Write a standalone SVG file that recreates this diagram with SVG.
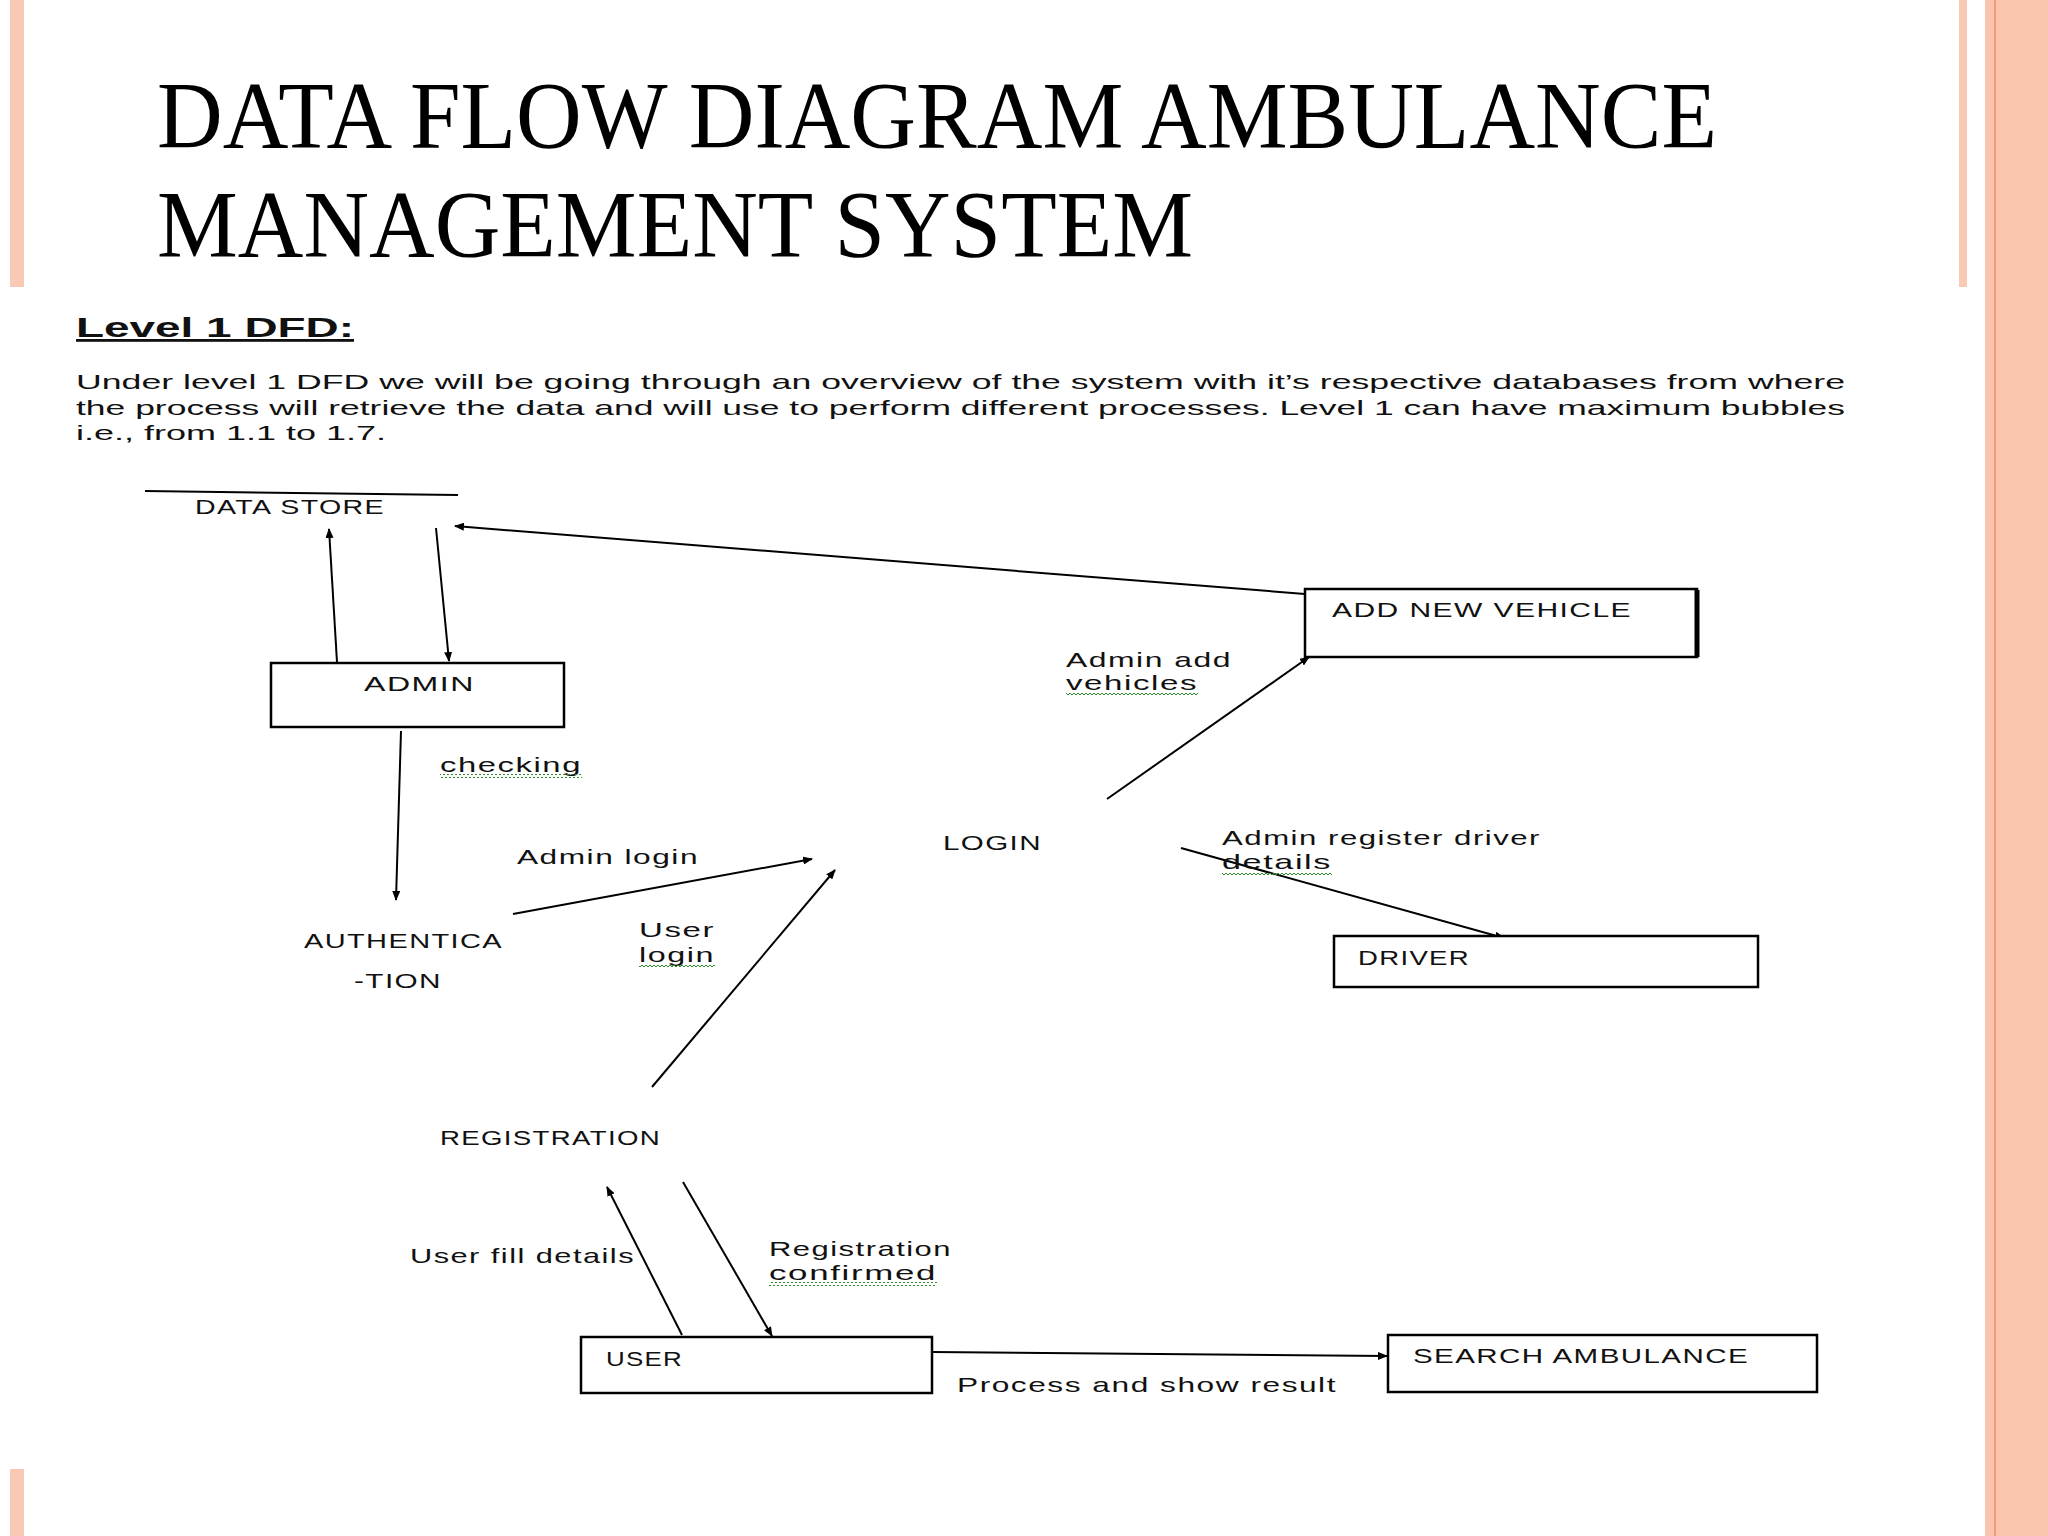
<svg xmlns="http://www.w3.org/2000/svg" width="2048" height="1536" viewBox="0 0 2048 1536">
<defs>
<marker id="ah" markerWidth="10" markerHeight="8" refX="9" refY="4" orient="auto" markerUnits="userSpaceOnUse"><path d="M0,0 L10,4 L0,8 z" fill="#000"/></marker>
<pattern id="wave" width="8" height="4" patternUnits="userSpaceOnUse"><path d="M0,3 L2,1 L4,3 L6,1 L8,3" stroke="#2e8b2e" stroke-width="1" fill="none"/></pattern>
</defs>
<style>
.t{font-family:"Liberation Sans",Arial,sans-serif;font-size:21px;fill:#111;letter-spacing:1px}
.b{fill:#fff;stroke:#000;stroke-width:2.5}
.c{stroke:#000;stroke-width:2;fill:none;marker-end:url(#ah)}
.sq{fill:url(#wave)}
</style>
<rect width="2048" height="1536" fill="#fff"/>
<g id="stripes">
<rect x="10" y="0" width="14" height="287" fill="#f9c9b6"/>
<rect x="10" y="1469" width="14" height="67" fill="#f9c9b6"/>
<rect x="1959" y="0" width="8" height="287" fill="#f9c9b6"/>
<rect x="1985" y="0" width="63" height="1536" fill="#f9c5ae"/>
<rect x="1994" y="0" width="2" height="1536" fill="#f0a070"/>
</g>
<g id="title" font-family="Liberation Serif,serif" font-size="96" fill="#000">
<text x="157" y="148" textLength="1560" lengthAdjust="spacingAndGlyphs">DATA FLOW DIAGRAM AMBULANCE</text>
<text x="157" y="257" textLength="1036" lengthAdjust="spacingAndGlyphs">MANAGEMENT SYSTEM</text>
</g>
<g id="intro" font-family="Liberation Sans,Arial,sans-serif" fill="#111">
<text x="76" y="337" font-size="28" font-weight="bold" text-decoration="underline" textLength="278" lengthAdjust="spacingAndGlyphs">Level 1 DFD:</text>
<text x="76" y="389" font-size="21" textLength="1769" lengthAdjust="spacingAndGlyphs">Under level 1 DFD we will be going through an overview of the system with it’s respective databases from where</text>
<text x="76" y="415" font-size="21" textLength="1769" lengthAdjust="spacingAndGlyphs">the process will retrieve the data and will use to perform different processes. Level 1 can have maximum bubbles</text>
<text x="76" y="440" font-size="21" textLength="310" lengthAdjust="spacingAndGlyphs">i.e., from 1.1 to 1.7.</text>
</g>
<g id="connectors">
<path class="c" d="M337,662 L329,529"/>
<path class="c" d="M436,528 L449,661"/>
<path class="c" d="M1305,594 L455,526"/>
<path class="c" d="M401,731 L396,900"/>
<path class="c" d="M513,914 L812,859"/>
<path class="c" d="M1107,799 L1309,657"/>
<path class="c" d="M1181,848 L1504,938"/>
<path class="c" d="M652,1087 L835,870"/>
<path class="c" d="M682,1335 L607,1187"/>
<path class="c" d="M683,1182 L772,1336"/>
<path class="c" d="M932,1352 L1387,1356"/>
</g>
<g id="datastore">
<line x1="145" y1="491" x2="458" y2="495" stroke="#000" stroke-width="2"/>
<text class="t" x="195" y="514" textLength="190" lengthAdjust="spacingAndGlyphs">DATA STORE</text>
</g>
<g id="admin"><rect class="b" x="271" y="663" width="293" height="64"/><text class="t" x="364" y="691" textLength="111" lengthAdjust="spacingAndGlyphs">ADMIN</text></g>
<g id="addvehicle"><rect class="b" x="1305" y="589" width="392" height="68" stroke-width="3"/><line x1="1697" y1="590" x2="1697" y2="657" stroke="#000" stroke-width="5"/><text class="t" x="1332" y="617" textLength="300" lengthAdjust="spacingAndGlyphs">ADD NEW VEHICLE</text></g>
<g id="authentication"><text class="t" x="304" y="948" textLength="199" lengthAdjust="spacingAndGlyphs">AUTHENTICA</text><text class="t" x="354" y="988" textLength="88" lengthAdjust="spacingAndGlyphs">-TION</text></g>
<g id="login"><text class="t" x="943" y="850" textLength="99" lengthAdjust="spacingAndGlyphs">LOGIN</text></g>
<g id="driver"><rect class="b" x="1334" y="936" width="424" height="51"/><text class="t" x="1358" y="965" textLength="112" lengthAdjust="spacingAndGlyphs">DRIVER</text></g>
<g id="registration"><text class="t" x="440" y="1145" textLength="221" lengthAdjust="spacingAndGlyphs">REGISTRATION</text></g>
<g id="user"><rect class="b" x="581" y="1337" width="351" height="56"/><text class="t" x="606" y="1366" textLength="77" lengthAdjust="spacingAndGlyphs">USER</text></g>
<g id="search"><rect class="b" x="1388" y="1335" width="429" height="57"/><text class="t" x="1413" y="1363" textLength="336" lengthAdjust="spacingAndGlyphs">SEARCH AMBULANCE</text></g>
<g id="labels">
<text class="t" x="440" y="772" textLength="142" lengthAdjust="spacingAndGlyphs">checking</text><rect class="sq" x="440" y="774" width="142" height="4"/>
<text class="t" x="517" y="864" textLength="182" lengthAdjust="spacingAndGlyphs">Admin login</text>
<text class="t" x="1066" y="667" textLength="166" lengthAdjust="spacingAndGlyphs">Admin add</text>
<text class="t" x="1066" y="690" textLength="132" lengthAdjust="spacingAndGlyphs">vehicles</text><rect class="sq" x="1066" y="692" width="132" height="4"/>
<text class="t" x="1222" y="845" textLength="319" lengthAdjust="spacingAndGlyphs">Admin register driver</text>
<text class="t" x="1222" y="869" textLength="110" lengthAdjust="spacingAndGlyphs">details</text><rect class="sq" x="1222" y="871" width="110" height="4"/>
<text class="t" x="639" y="937" textLength="76" lengthAdjust="spacingAndGlyphs">User</text>
<text class="t" x="639" y="962" textLength="76" lengthAdjust="spacingAndGlyphs">login</text><rect class="sq" x="639" y="964" width="76" height="4"/>
<text class="t" x="410" y="1263" textLength="225" lengthAdjust="spacingAndGlyphs">User fill details</text>
<text class="t" x="769" y="1256" textLength="183" lengthAdjust="spacingAndGlyphs">Registration</text>
<text class="t" x="769" y="1280" textLength="168" lengthAdjust="spacingAndGlyphs">confirmed</text><rect class="sq" x="769" y="1282" width="168" height="4"/>
<text class="t" x="957" y="1392" textLength="380" lengthAdjust="spacingAndGlyphs">Process and show result</text>
</g>
</svg>
